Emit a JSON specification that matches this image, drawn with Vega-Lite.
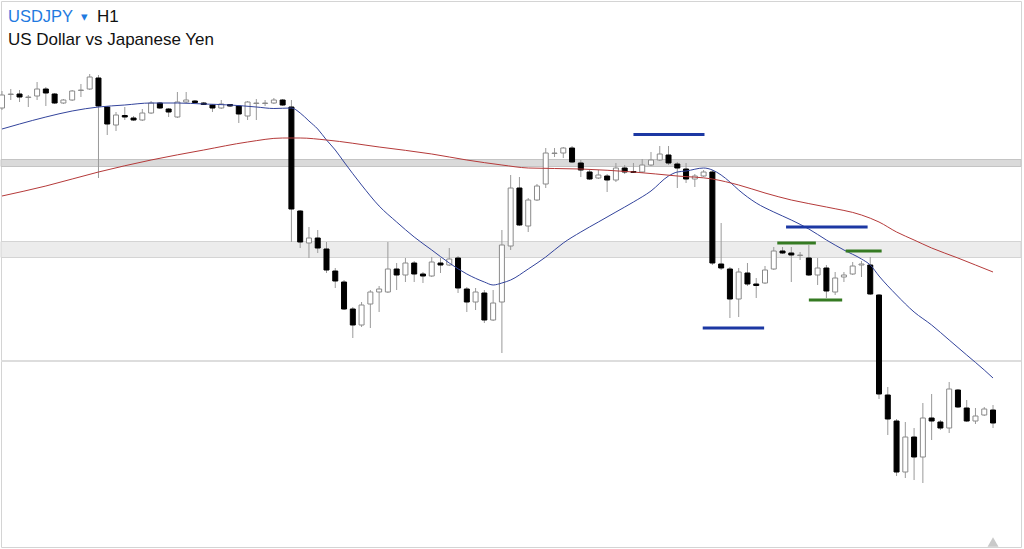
{
  "$schema": "https://vega.github.io/schema/vega-lite/v6.json",
  "width": 1020,
  "height": 546,
  "autosize": {"type": "none"},
  "padding": {"left": 1, "top": 1, "right": 3, "bottom": 2},
  "background": "white",
  "config": {"view": {"stroke": "#d4d4d4", "strokeWidth": 1}, "scale": {"continuousPadding": 0}},
  "resolve": {"scale": {"color": "independent", "fill": "independent", "stroke": "independent"}},
  "datasets": {
    "candles": [
      {"i":0,"open":111.96,"high":112.045,"low":111.95,"close":112.025},
      {"i":1,"open":112.0275,"high":112.055,"low":112.0,"close":112.03},
      {"i":2,"open":112.03,"high":112.05,"low":111.99,"close":112.015},
      {"i":3,"open":112.0125,"high":112.025,"low":111.965,"close":112.015},
      {"i":4,"open":112.02,"high":112.09,"low":112.0,"close":112.055},
      {"i":5,"open":112.055,"high":112.065,"low":111.97,"close":112.035},
      {"i":6,"open":112.03,"high":112.035,"low":111.98,"close":111.985},
      {"i":7,"open":111.985,"high":112.005,"low":111.98,"close":112.0},
      {"i":8,"open":112.0,"high":112.05,"low":111.995,"close":112.045},
      {"i":9,"open":112.0475,"high":112.08,"low":112.015,"close":112.05},
      {"i":10,"open":112.055,"high":112.13,"low":112.05,"close":112.115},
      {"i":11,"open":112.11,"high":112.125,"low":111.61,"close":111.97},
      {"i":12,"open":111.965,"high":111.97,"low":111.825,"close":111.88},
      {"i":13,"open":111.875,"high":111.94,"low":111.845,"close":111.925},
      {"i":14,"open":111.9225,"high":111.965,"low":111.9,"close":111.915},
      {"i":15,"open":111.91,"high":111.92,"low":111.895,"close":111.9},
      {"i":16,"open":111.9,"high":111.955,"low":111.895,"close":111.935},
      {"i":17,"open":111.935,"high":111.995,"low":111.93,"close":111.985},
      {"i":18,"open":111.985,"high":111.99,"low":111.955,"close":111.96},
      {"i":19,"open":111.955,"high":111.96,"low":111.915,"close":111.94},
      {"i":20,"open":111.915,"high":112.04,"low":111.91,"close":111.99},
      {"i":21,"open":111.99,"high":112.04,"low":111.985,"close":112.0},
      {"i":22,"open":111.995,"high":112.0,"low":111.985,"close":111.9875},
      {"i":23,"open":111.985,"high":111.99,"low":111.975,"close":111.9775},
      {"i":24,"open":111.975,"high":111.98,"low":111.94,"close":111.96},
      {"i":25,"open":111.96,"high":112.0,"low":111.955,"close":111.98},
      {"i":26,"open":111.9775,"high":111.98,"low":111.965,"close":111.97},
      {"i":27,"open":111.97,"high":111.975,"low":111.885,"close":111.93},
      {"i":28,"open":111.92,"high":111.995,"low":111.9,"close":111.99},
      {"i":29,"open":111.9825,"high":112.005,"low":111.9,"close":111.985},
      {"i":30,"open":111.9825,"high":112.0,"low":111.97,"close":111.985},
      {"i":31,"open":111.985,"high":112.01,"low":111.98,"close":112.0},
      {"i":32,"open":112.0,"high":112.005,"low":111.97,"close":111.975},
      {"i":33,"open":111.965,"high":112.0,"low":111.29,"close":111.455},
      {"i":34,"open":111.445,"high":111.45,"low":111.26,"close":111.29},
      {"i":35,"open":111.285,"high":111.365,"low":111.21,"close":111.31},
      {"i":36,"open":111.31,"high":111.35,"low":111.235,"close":111.26},
      {"i":37,"open":111.255,"high":111.29,"low":111.135,"close":111.15},
      {"i":38,"open":111.145,"high":111.16,"low":111.06,"close":111.095},
      {"i":39,"open":111.09,"high":111.1,"low":110.95,"close":110.955},
      {"i":40,"open":110.955,"high":110.965,"low":110.81,"close":110.875},
      {"i":41,"open":110.875,"high":110.99,"low":110.865,"close":110.975},
      {"i":42,"open":110.98,"high":111.05,"low":110.86,"close":111.04},
      {"i":43,"open":111.04,"high":111.07,"low":110.94,"close":111.055},
      {"i":44,"open":111.04,"high":111.29,"low":111.035,"close":111.155},
      {"i":45,"open":111.155,"high":111.185,"low":111.05,"close":111.125},
      {"i":46,"open":111.125,"high":111.21,"low":111.09,"close":111.185},
      {"i":47,"open":111.185,"high":111.195,"low":111.09,"close":111.13},
      {"i":48,"open":111.13,"high":111.14,"low":111.085,"close":111.12},
      {"i":49,"open":111.12,"high":111.215,"low":111.115,"close":111.19},
      {"i":50,"open":111.185,"high":111.21,"low":111.135,"close":111.175},
      {"i":51,"open":111.175,"high":111.26,"low":111.17,"close":111.205},
      {"i":52,"open":111.21,"high":111.22,"low":111.035,"close":111.06},
      {"i":53,"open":111.055,"high":111.065,"low":110.94,"close":110.99},
      {"i":54,"open":110.99,"high":111.06,"low":110.95,"close":111.04},
      {"i":55,"open":111.035,"high":111.05,"low":110.885,"close":110.9},
      {"i":56,"open":110.9,"high":111.05,"low":110.895,"close":110.985},
      {"i":57,"open":110.99,"high":111.35,"low":110.735,"close":111.275},
      {"i":58,"open":111.27,"high":111.625,"low":111.25,"close":111.56},
      {"i":59,"open":111.56,"high":111.615,"low":111.37,"close":111.375},
      {"i":60,"open":111.37,"high":111.51,"low":111.34,"close":111.5},
      {"i":61,"open":111.5,"high":111.58,"low":111.495,"close":111.57},
      {"i":62,"open":111.58,"high":111.76,"low":111.56,"close":111.735},
      {"i":63,"open":111.7325,"high":111.76,"low":111.715,"close":111.735},
      {"i":64,"open":111.735,"high":111.765,"low":111.71,"close":111.76},
      {"i":65,"open":111.76,"high":111.77,"low":111.685,"close":111.69},
      {"i":66,"open":111.685,"high":111.7,"low":111.615,"close":111.65},
      {"i":67,"open":111.64,"high":111.65,"low":111.6,"close":111.605},
      {"i":68,"open":111.61,"high":111.65,"low":111.605,"close":111.625},
      {"i":69,"open":111.62,"high":111.63,"low":111.54,"close":111.6},
      {"i":70,"open":111.6,"high":111.685,"low":111.59,"close":111.66},
      {"i":71,"open":111.66,"high":111.675,"low":111.63,"close":111.64},
      {"i":72,"open":111.6425,"high":111.685,"low":111.635,"close":111.6375},
      {"i":73,"open":111.64,"high":111.705,"low":111.635,"close":111.675},
      {"i":74,"open":111.675,"high":111.74,"low":111.67,"close":111.7},
      {"i":75,"open":111.7,"high":111.77,"low":111.695,"close":111.73},
      {"i":76,"open":111.725,"high":111.77,"low":111.675,"close":111.685},
      {"i":77,"open":111.68,"high":111.69,"low":111.56,"close":111.66},
      {"i":78,"open":111.655,"high":111.685,"low":111.585,"close":111.605},
      {"i":79,"open":111.605,"high":111.63,"low":111.565,"close":111.62},
      {"i":80,"open":111.62,"high":111.65,"low":111.615,"close":111.64},
      {"i":81,"open":111.64,"high":111.65,"low":111.175,"close":111.185},
      {"i":82,"open":111.18,"high":111.385,"low":111.15,"close":111.16},
      {"i":83,"open":111.155,"high":111.165,"low":110.91,"close":111.005},
      {"i":84,"open":111.005,"high":111.16,"low":110.915,"close":111.14},
      {"i":85,"open":111.135,"high":111.185,"low":111.07,"close":111.08},
      {"i":86,"open":111.08,"high":111.11,"low":111.01,"close":111.0725},
      {"i":87,"open":111.085,"high":111.17,"low":111.08,"close":111.15},
      {"i":88,"open":111.155,"high":111.265,"low":111.15,"close":111.245},
      {"i":89,"open":111.245,"high":111.265,"low":111.23,"close":111.235},
      {"i":90,"open":111.235,"high":111.265,"low":111.09,"close":111.225},
      {"i":91,"open":111.2225,"high":111.24,"low":111.2,"close":111.225},
      {"i":92,"open":111.21,"high":111.275,"low":111.12,"close":111.125},
      {"i":93,"open":111.125,"high":111.21,"low":111.075,"close":111.16},
      {"i":94,"open":111.16,"high":111.175,"low":111.01,"close":111.045},
      {"i":95,"open":111.04,"high":111.14,"low":111.025,"close":111.11},
      {"i":96,"open":111.115,"high":111.14,"low":111.09,"close":111.125},
      {"i":97,"open":111.13,"high":111.19,"low":111.125,"close":111.17},
      {"i":98,"open":111.175,"high":111.195,"low":111.115,"close":111.18},
      {"i":99,"open":111.175,"high":111.215,"low":111.025,"close":111.03},
      {"i":100,"open":111.025,"high":111.03,"low":110.505,"close":110.53},
      {"i":101,"open":110.525,"high":110.565,"low":110.325,"close":110.405},
      {"i":102,"open":110.395,"high":110.405,"low":110.12,"close":110.14},
      {"i":103,"open":110.14,"high":110.39,"low":110.11,"close":110.315},
      {"i":104,"open":110.315,"high":110.36,"low":110.1,"close":110.215},
      {"i":105,"open":110.215,"high":110.485,"low":110.085,"close":110.41},
      {"i":106,"open":110.41,"high":110.53,"low":110.3,"close":110.395},
      {"i":107,"open":110.39,"high":110.4,"low":110.35,"close":110.36},
      {"i":108,"open":110.36,"high":110.59,"low":110.335,"close":110.555},
      {"i":109,"open":110.55,"high":110.555,"low":110.46,"close":110.465},
      {"i":110,"open":110.46,"high":110.5,"low":110.39,"close":110.395},
      {"i":111,"open":110.395,"high":110.46,"low":110.38,"close":110.42},
      {"i":112,"open":110.425,"high":110.465,"low":110.42,"close":110.455},
      {"i":113,"open":110.45,"high":110.475,"low":110.36,"close":110.385}
    ],
    "ma": [
      {"i":0,"series":"fast","value":111.855},{"i":2,"series":"fast","value":111.88},{"i":5,"series":"fast","value":111.915},
      {"i":8,"series":"fast","value":111.945},{"i":11,"series":"fast","value":111.965},{"i":14,"series":"fast","value":111.975},
      {"i":17,"series":"fast","value":111.985},{"i":20,"series":"fast","value":111.985},{"i":23,"series":"fast","value":111.98},
      {"i":26,"series":"fast","value":111.975},{"i":29,"series":"fast","value":111.965},{"i":31,"series":"fast","value":111.9575},
      {"i":33,"series":"fast","value":111.96},{"i":34,"series":"fast","value":111.935},{"i":35,"series":"fast","value":111.895},
      {"i":36,"series":"fast","value":111.855},{"i":37,"series":"fast","value":111.8},{"i":38,"series":"fast","value":111.75},
      {"i":39,"series":"fast","value":111.69},{"i":41,"series":"fast","value":111.575},{"i":43,"series":"fast","value":111.47},
      {"i":45,"series":"fast","value":111.39},{"i":47,"series":"fast","value":111.315},{"i":49,"series":"fast","value":111.25},
      {"i":51,"series":"fast","value":111.185},{"i":53,"series":"fast","value":111.13},{"i":55,"series":"fast","value":111.09},
      {"i":56,"series":"fast","value":111.075},{"i":57,"series":"fast","value":111.085},{"i":58,"series":"fast","value":111.1},
      {"i":60,"series":"fast","value":111.155},{"i":62,"series":"fast","value":111.215},{"i":64,"series":"fast","value":111.285},
      {"i":66,"series":"fast","value":111.34},{"i":68,"series":"fast","value":111.39},{"i":70,"series":"fast","value":111.44},
      {"i":72,"series":"fast","value":111.49},{"i":74,"series":"fast","value":111.545},{"i":76,"series":"fast","value":111.62},
      {"i":77,"series":"fast","value":111.64},{"i":78,"series":"fast","value":111.645},{"i":80,"series":"fast","value":111.66},
      {"i":81,"series":"fast","value":111.65},{"i":82,"series":"fast","value":111.625},{"i":83,"series":"fast","value":111.59},
      {"i":84,"series":"fast","value":111.55},{"i":86,"series":"fast","value":111.485},{"i":88,"series":"fast","value":111.44},
      {"i":90,"series":"fast","value":111.4},{"i":92,"series":"fast","value":111.355},{"i":94,"series":"fast","value":111.3},
      {"i":96,"series":"fast","value":111.25},{"i":98,"series":"fast","value":111.205},{"i":99,"series":"fast","value":111.175},
      {"i":100,"series":"fast","value":111.12},{"i":102,"series":"fast","value":111.025},{"i":104,"series":"fast","value":110.94},
      {"i":106,"series":"fast","value":110.875},{"i":108,"series":"fast","value":110.8},{"i":110,"series":"fast","value":110.725},
      {"i":112,"series":"fast","value":110.65},{"i":113,"series":"fast","value":110.61},
      {"i":0,"series":"slow","value":111.52},{"i":5,"series":"slow","value":111.57},{"i":11,"series":"slow","value":111.64},
      {"i":17,"series":"slow","value":111.7},{"i":23,"series":"slow","value":111.75},{"i":28,"series":"slow","value":111.79},
      {"i":32,"series":"slow","value":111.81},{"i":34,"series":"slow","value":111.81},{"i":37,"series":"slow","value":111.8},
      {"i":43,"series":"slow","value":111.765},{"i":49,"series":"slow","value":111.73},{"i":53,"series":"slow","value":111.7},
      {"i":57,"series":"slow","value":111.675},{"i":60,"series":"slow","value":111.66},{"i":66,"series":"slow","value":111.655},
      {"i":72,"series":"slow","value":111.64},{"i":77,"series":"slow","value":111.62},{"i":81,"series":"slow","value":111.605},
      {"i":84,"series":"slow","value":111.575},{"i":87,"series":"slow","value":111.535},{"i":90,"series":"slow","value":111.5},
      {"i":94,"series":"slow","value":111.465},{"i":98,"series":"slow","value":111.425},{"i":100,"series":"slow","value":111.39},
      {"i":102,"series":"slow","value":111.34},{"i":104,"series":"slow","value":111.3},{"i":106,"series":"slow","value":111.26},
      {"i":109,"series":"slow","value":111.21},{"i":111,"series":"slow","value":111.175},{"i":113,"series":"slow","value":111.14}
    ],
    "zones": [
      {"zone":"upper","lo":111.6675,"hi":111.7025},
      {"zone":"lower","lo":111.2125,"hi":111.2925}
    ],
    "hline": [{"price":110.695}],
    "levels": [
      {"kind":"blue","start":72.0,"end":80.1,"price":111.8275},
      {"kind":"blue","start":79.9,"end":86.9,"price":110.86},
      {"kind":"blue","start":89.4,"end":98.7,"price":111.365},
      {"kind":"green","start":88.4,"end":92.8,"price":111.285},
      {"kind":"green","start":92.0,"end":95.8,"price":111.0},
      {"kind":"green","start":96.2,"end":100.3,"price":111.245}
    ]
  },
  "layer": [
    {
      "data": {"name": "zones"},
      "mark": {"type": "rect", "strokeWidth": 1},
      "encoding": {
        "y": {"field": "lo", "type": "quantitative", "scale": {"domain": [109.765, 112.495], "nice": false, "zero": false, "padding": 0}, "axis": null},
        "y2": {"field": "hi"},
        "fill": {"field": "zone", "type": "nominal", "scale": {"domain": ["upper", "lower"], "range": ["#dadada", "#ececec"]}, "legend": null},
        "stroke": {"field": "zone", "type": "nominal", "scale": {"domain": ["upper", "lower"], "range": ["#c4c4c4", "#d4d4d4"]}, "legend": null}
      }
    },
    {
      "data": {"name": "hline"},
      "mark": {"type": "rule", "color": "#dddddd", "strokeWidth": 2},
      "encoding": {
        "y": {"field": "price", "type": "quantitative", "scale": {"domain": [109.765, 112.495], "nice": false, "zero": false, "padding": 0}, "axis": null}
      }
    },
    {
      "data": {"name": "candles"},
      "mark": {"type": "rule", "color": "#9a9a9a", "strokeWidth": 1},
      "encoding": {
        "x": {"field": "i", "type": "quantitative", "scale": {"domain": [-0.114, 116.19], "nice": false, "zero": false, "padding": 0}, "axis": null},
        "y": {"field": "low", "type": "quantitative", "scale": {"domain": [109.765, 112.495], "nice": false, "zero": false, "padding": 0}, "axis": null},
        "y2": {"field": "high"}
      }
    },
    {
      "data": {"name": "candles"},
      "mark": {"type": "bar", "size": 5, "strokeWidth": 1},
      "encoding": {
        "x": {"field": "i", "type": "quantitative", "scale": {"domain": [-0.114, 116.19], "nice": false, "zero": false, "padding": 0}, "axis": null},
        "y": {"field": "open", "type": "quantitative", "scale": {"domain": [109.765, 112.495], "nice": false, "zero": false, "padding": 0}, "axis": null},
        "y2": {"field": "close"},
        "fill": {"condition": {"test": "datum.close < datum.open", "value": "#000000"}, "value": "#ffffff"},
        "stroke": {"condition": {"test": "datum.close < datum.open", "value": "#000000"}, "value": "#8a8a8a"}
      }
    },
    {
      "data": {"name": "ma"},
      "mark": {"type": "line", "strokeWidth": 1, "interpolate": "monotone"},
      "encoding": {
        "x": {"field": "i", "type": "quantitative", "scale": {"domain": [-0.114, 116.19], "nice": false, "zero": false, "padding": 0}, "axis": null},
        "y": {"field": "value", "type": "quantitative", "scale": {"domain": [109.765, 112.495], "nice": false, "zero": false, "padding": 0}, "axis": null},
        "color": {"field": "series", "type": "nominal", "scale": {"domain": ["fast", "slow"], "range": ["#33449c", "#b53a3a"]}, "legend": null}
      }
    },
    {
      "data": {"name": "levels"},
      "mark": {"type": "rule", "strokeWidth": 3},
      "encoding": {
        "x": {"field": "start", "type": "quantitative", "scale": {"domain": [-0.114, 116.19], "nice": false, "zero": false, "padding": 0}, "axis": null},
        "x2": {"field": "end"},
        "y": {"field": "price", "type": "quantitative", "scale": {"domain": [109.765, 112.495], "nice": false, "zero": false, "padding": 0}, "axis": null},
        "color": {"field": "kind", "type": "nominal", "scale": {"domain": ["blue", "green"], "range": ["#1c38a3", "#357a22"]}, "legend": null}
      }
    },
    {
      "data": {"values": [{"t": "▲"}]},
      "mark": {"type": "point", "shape": "triangle-up", "filled": true, "color": "#c9c9c9", "size": 120, "opacity": 1},
      "encoding": {
        "x": {"datum": 113, "type": "quantitative", "scale": {"domain": [-0.114, 116.19], "nice": false, "zero": false, "padding": 0}, "axis": null},
        "y": {"datum": 109.79, "type": "quantitative", "scale": {"domain": [109.765, 112.495], "nice": false, "zero": false, "padding": 0}, "axis": null}
      }
    },
    {
      "data": {"values": [{"t": "USDJPY"}]},
      "mark": {"type": "text", "align": "left", "baseline": "alphabetic", "font": "Liberation Sans", "fontSize": 16.5, "color": "#1f7ae0"},
      "encoding": {
        "x": {"datum": 0.684, "type": "quantitative", "scale": {"domain": [-0.114, 116.19], "nice": false, "zero": false, "padding": 0}, "axis": null},
        "y": {"datum": 112.39, "type": "quantitative", "scale": {"domain": [109.765, 112.495], "nice": false, "zero": false, "padding": 0}, "axis": null},
        "text": {"field": "t"}
      }
    },
    {
      "data": {"values": [{"t": "▾"}]},
      "mark": {"type": "text", "align": "left", "baseline": "alphabetic", "font": "DejaVu Sans", "fontSize": 13, "color": "#1f7ae0"},
      "encoding": {
        "x": {"datum": 9.0, "type": "quantitative", "scale": {"domain": [-0.114, 116.19], "nice": false, "zero": false, "padding": 0}, "axis": null},
        "y": {"datum": 112.3975, "type": "quantitative", "scale": {"domain": [109.765, 112.495], "nice": false, "zero": false, "padding": 0}, "axis": null},
        "text": {"field": "t"}
      }
    },
    {
      "data": {"values": [{"t": "H1"}]},
      "mark": {"type": "text", "align": "left", "baseline": "alphabetic", "font": "Liberation Sans", "fontSize": 17, "color": "#111111"},
      "encoding": {
        "x": {"datum": 10.83, "type": "quantitative", "scale": {"domain": [-0.114, 116.19], "nice": false, "zero": false, "padding": 0}, "axis": null},
        "y": {"datum": 112.39, "type": "quantitative", "scale": {"domain": [109.765, 112.495], "nice": false, "zero": false, "padding": 0}, "axis": null},
        "text": {"field": "t"}
      }
    },
    {
      "data": {"values": [{"t": "US Dollar vs Japanese Yen"}]},
      "mark": {"type": "text", "align": "left", "baseline": "alphabetic", "font": "Liberation Sans", "fontSize": 17, "color": "#111111"},
      "encoding": {
        "x": {"datum": 0.684, "type": "quantitative", "scale": {"domain": [-0.114, 116.19], "nice": false, "zero": false, "padding": 0}, "axis": null},
        "y": {"datum": 112.275, "type": "quantitative", "scale": {"domain": [109.765, 112.495], "nice": false, "zero": false, "padding": 0}, "axis": null},
        "text": {"field": "t"}
      }
    }
  ]
}
